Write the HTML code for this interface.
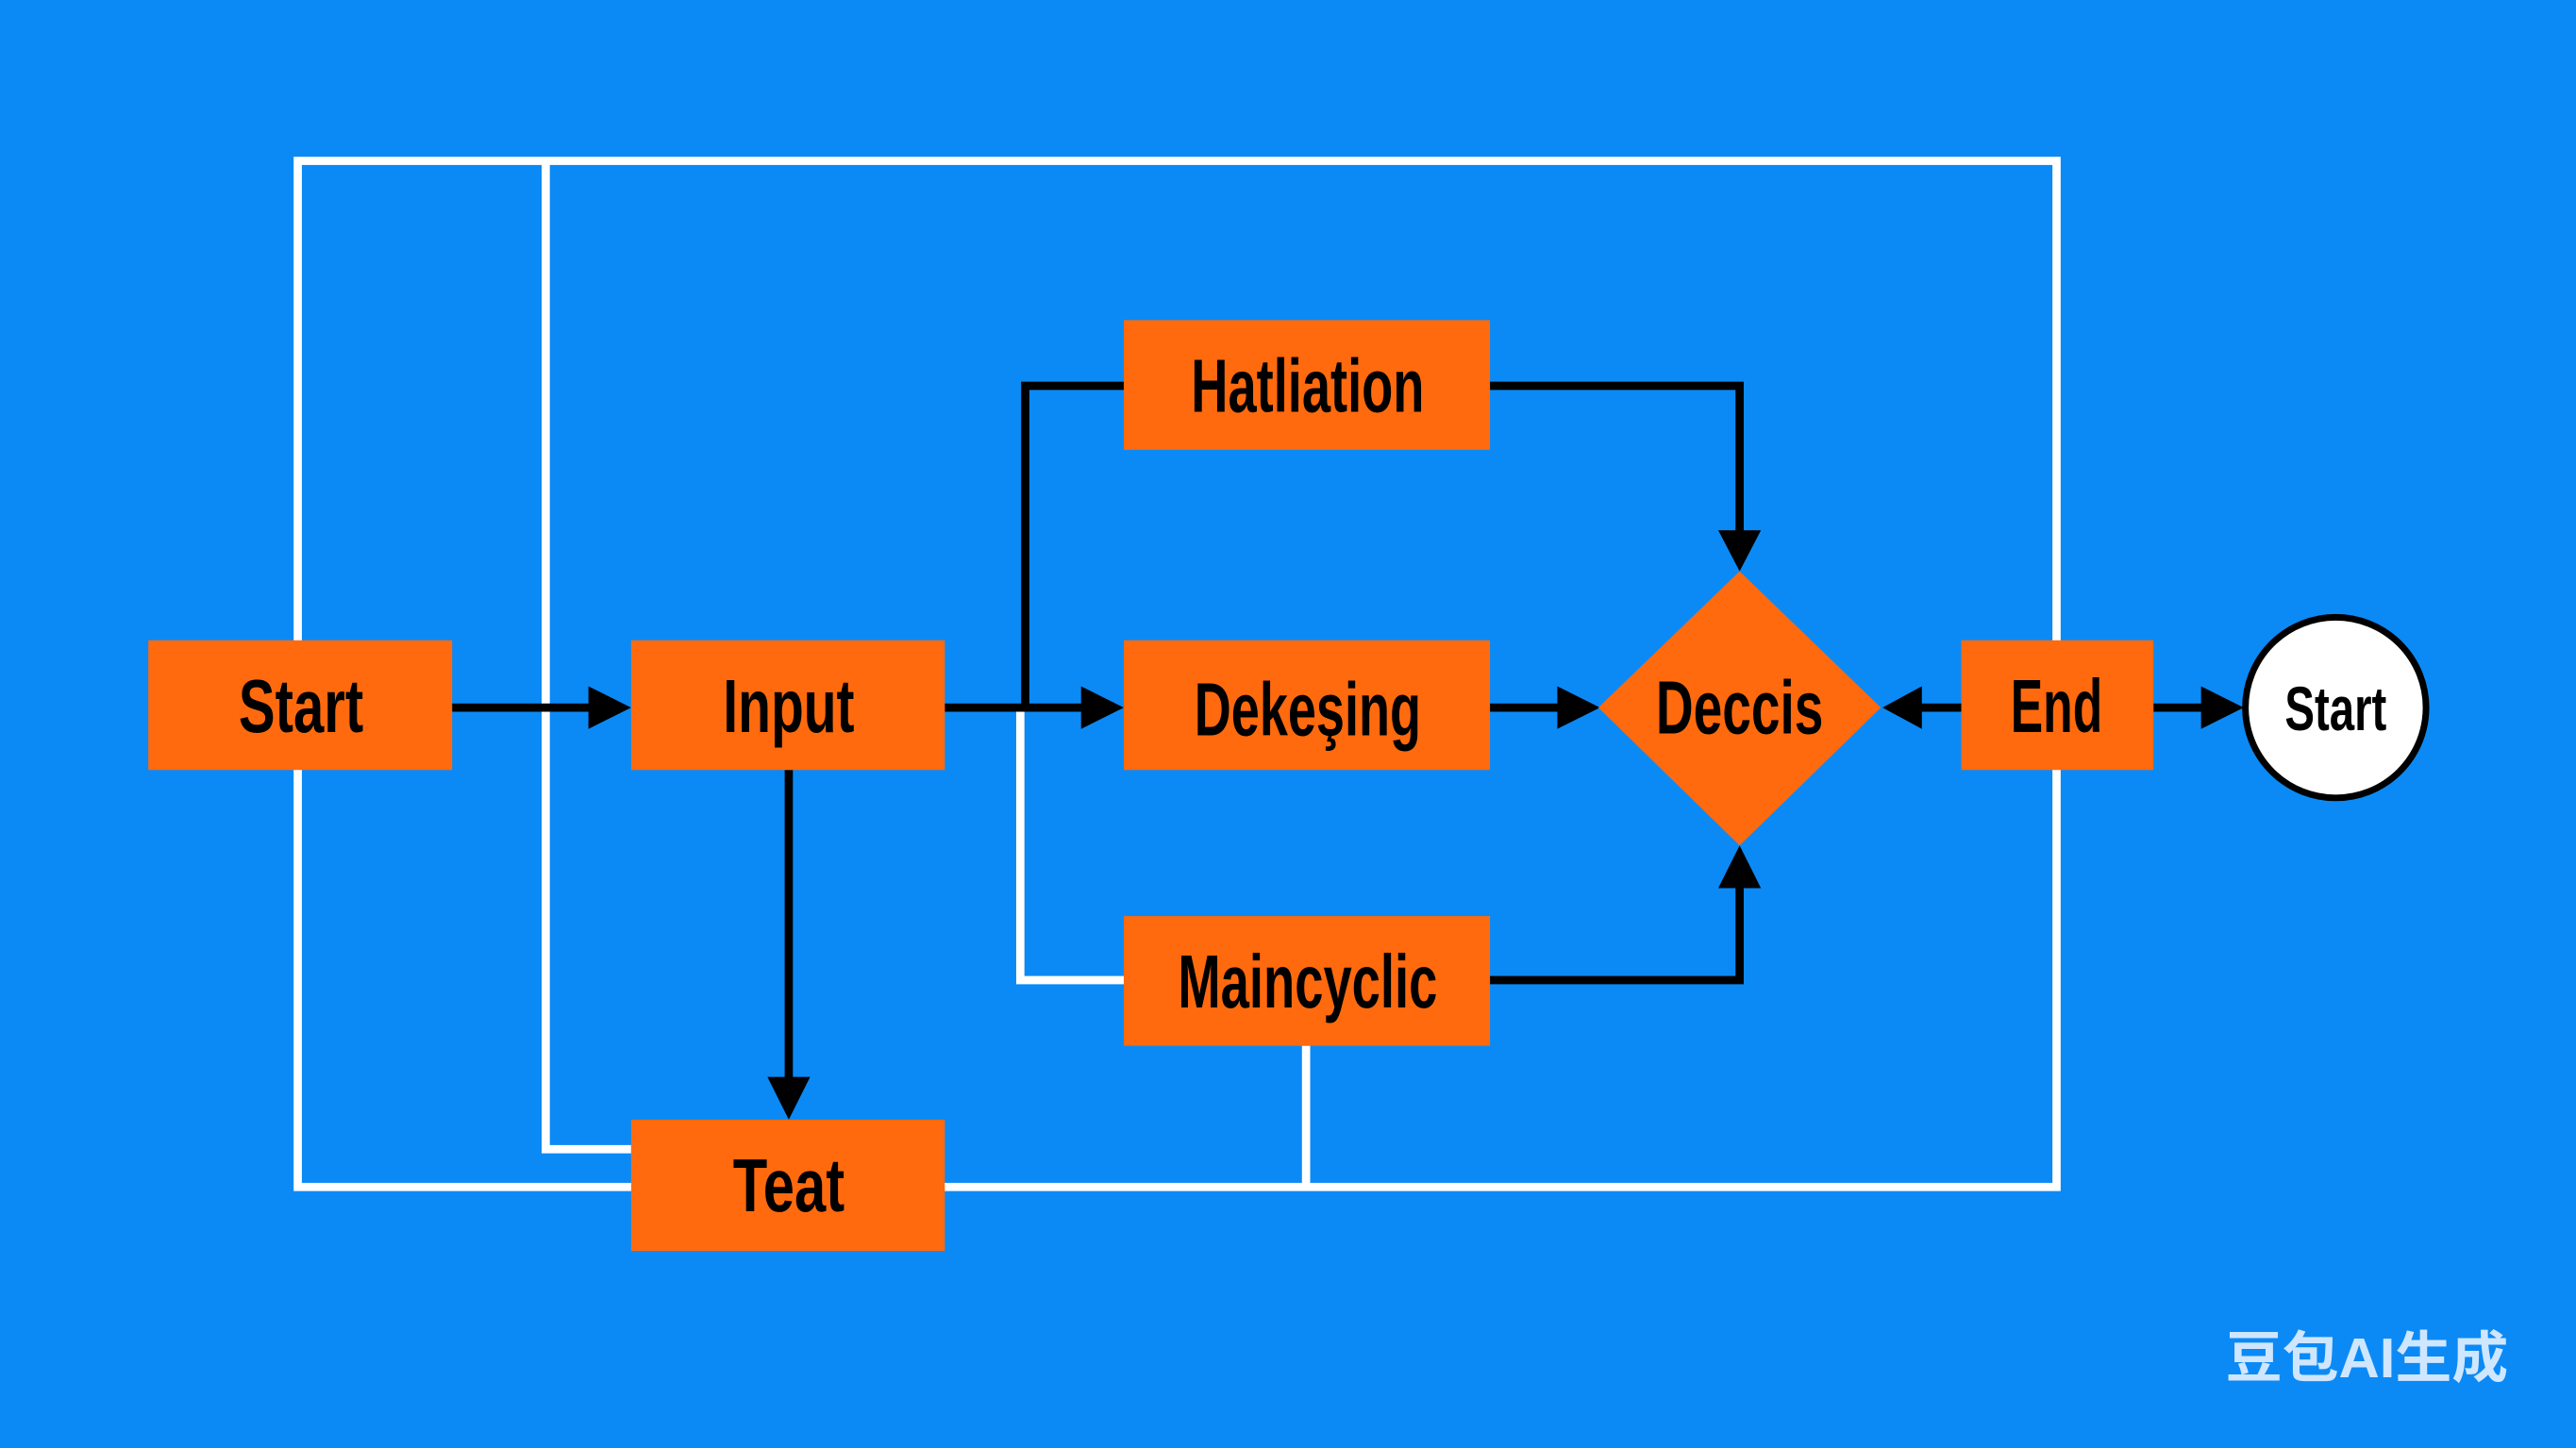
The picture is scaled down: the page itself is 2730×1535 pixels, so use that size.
<!DOCTYPE html>
<html><head><meta charset="utf-8"><style>
html,body{margin:0;padding:0;background:#0b8af6;}
svg{display:block}
text{font-family:"Liberation Sans Narrow","Liberation Sans",sans-serif;font-weight:bold;fill:#000;text-anchor:middle;dominant-baseline:central}
</style></head><body>
<svg width="2730" height="1535" viewBox="0 0 1568 882" xmlns="http://www.w3.org/2000/svg">
<defs><marker id="a" viewBox="0 0 10 10" refX="10" refY="5" markerWidth="5" markerHeight="5" orient="auto" markerUnits="userSpaceOnUse"></marker></defs>
<rect width="1568" height="882" fill="#0b8af6"/>
<!-- white lines -->
<g fill="none" stroke="#fff" stroke-width="5">
<rect x="181" y="98" width="1071" height="625"/>
<polyline points="332,100 332,700 384,700"/>
<polyline points="621,431 621,597 684,597"/>
<line x1="795" y1="637" x2="795" y2="722"/>
</g>
<!-- black connectors -->
<g fill="none" stroke="#000" stroke-width="5">
<line x1="275" y1="431" x2="362" y2="431"/>
<line x1="575" y1="431" x2="662" y2="431"/>
<polyline points="624,431 624,235 684,235"/>
<polyline points="907,235 1059,235 1059,326"/>
<polyline points="907,597 1059,597 1059,538"/>
<line x1="907" y1="431" x2="952" y2="431"/>
<line x1="1194" y1="431" x2="1168" y2="431"/>
<line x1="1311" y1="431" x2="1344" y2="431"/>
<line x1="480" y1="469" x2="480" y2="660"/>
</g>
<g fill="#000">
<polygon points="358,418 384,431 358,444"/>
<polygon points="658,418 684,431 658,444"/>
<polygon points="948,418 974,431 948,444"/>
<polygon points="1170,418 1146,431 1170,444"/>
<polygon points="1340,418 1366,431 1340,444"/>
<polygon points="1046,323 1059,348 1072,323"/>
<polygon points="1046,541 1059,515 1072,541"/>
<polygon points="467,656 480,682 493,656"/>
</g>
<!-- nodes -->
<g fill="#ff6a0e">
<rect x="90" y="390" width="185" height="79"/>
<rect x="384" y="390" width="191" height="79"/>
<rect x="684" y="195" width="223" height="79"/>
<rect x="684" y="390" width="223" height="79"/>
<rect x="684" y="558" width="223" height="79"/>
<rect x="384" y="682" width="191" height="80"/>
<rect x="1194" y="390" width="117" height="79"/>
<polygon points="1059,348 1145,431 1059,515 973,431"/>
</g>
<circle cx="1422" cy="431" r="55" fill="#fff" stroke="#000" stroke-width="4"/>
<g font-size="46">
<text x="183" y="430" textLength="76" lengthAdjust="spacingAndGlyphs">Start</text>
<text x="480" y="430" textLength="80" lengthAdjust="spacingAndGlyphs">Input</text>
<text x="796" y="235" textLength="142" lengthAdjust="spacingAndGlyphs">Hatliation</text>
<text x="796" y="432" textLength="138" lengthAdjust="spacingAndGlyphs">Dekeşing</text>
<text x="796" y="598" textLength="158" lengthAdjust="spacingAndGlyphs">Maincyclic</text>
<text x="480" y="722" textLength="68" lengthAdjust="spacingAndGlyphs">Teat</text>
<text x="1252" y="430" textLength="56" lengthAdjust="spacingAndGlyphs">End</text>
<text x="1059" y="431" textLength="102" lengthAdjust="spacingAndGlyphs">Deccis</text>
</g>
<text x="1422" y="432" font-size="38" textLength="62" lengthAdjust="spacingAndGlyphs">Start</text>
<text x="1441" y="827" font-size="34" style="fill:#cfe6ff;font-family:'Liberation Sans','Noto Sans CJK SC',sans-serif" textLength="172" lengthAdjust="spacingAndGlyphs">豆包AI生成</text>
</svg>
</body></html>
